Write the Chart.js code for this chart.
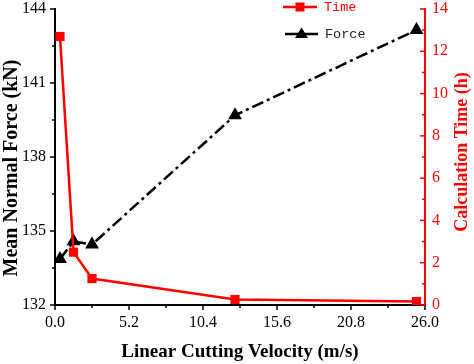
<!DOCTYPE html>
<html><head><meta charset="utf-8">
<script src="https://cdn.jsdelivr.net/npm/chart.js@4"></script>
<style>html,body{margin:0;padding:0;background:#fff}#wrap{width:474px;height:364px}</style>
</head><body><div id="wrap"><canvas id="c" width="474" height="364"></canvas></div>
<script>
const velocity = [0.35, 1.3, 2.6, 12.65, 25.4];
const timeHours = [12.7, 2.5, 1.25, 0.26, 0.16];
const forceKN = [133.86, 134.58, 134.45, 139.69, 143.15];
const xTicks = [0, 5.2, 10.4, 15.6, 20.8, 26.0];
const forceTicks = [132, 135, 138, 141, 144];
const timeTicks = [0, 2, 4, 6, 8, 10, 12, 14];

const RED = '#ff0000';
const SERIF = '"Liberation Serif", "Times New Roman", serif';

function mids(arr){ const r=[]; for(let i=0;i<arr.length-1;i++) r.push((arr[i]+arr[i+1])/2); return r; }
function seg(ctx,x1,y1,x2,y2){ ctx.beginPath(); ctx.moveTo(x1,y1); ctx.lineTo(x2,y2); ctx.stroke(); }

const deco = {
  id: 'deco',
  afterDraw(chart) {
    const ctx = chart.ctx;
    const xs = chart.scales.x, ys = chart.scales.y, yr = chart.scales.y1;
    const ca = chart.chartArea;
    ctx.save();
    ctx.strokeStyle = '#000'; ctx.lineWidth = 1.5;
    xTicks.forEach(v => { const p = xs.getPixelForValue(v); seg(ctx,p,ca.bottom,p,ca.bottom+5); });
    mids(xTicks).forEach(v => { const p = xs.getPixelForValue(v); seg(ctx,p,ca.bottom,p,ca.bottom+3); });
    forceTicks.forEach(v => { const p = ys.getPixelForValue(v); seg(ctx,ca.left,p,ca.left-5,p); });
    mids(forceTicks).forEach(v => { const p = ys.getPixelForValue(v); seg(ctx,ca.left,p,ca.left-3,p); });
    ctx.strokeStyle = RED;
    timeTicks.forEach(v => { const p = yr.getPixelForValue(v); seg(ctx,ca.right,p,ca.right-5,p); });
    mids(timeTicks).forEach(v => { const p = yr.getPixelForValue(v); seg(ctx,ca.right,p,ca.right-3,p); });

    ctx.save();
    ctx.translate(12, 168); ctx.rotate(-Math.PI/2);
    ctx.textAlign='center'; ctx.textBaseline='middle';
    ctx.fillStyle='#000'; ctx.font='bold 20px ' + SERIF;
    ctx.fillText('Mean Normal Force (kN)', 0, 0);
    ctx.restore();
    ctx.save();
    ctx.translate(462, 152); ctx.rotate(-Math.PI/2);
    ctx.textAlign='center'; ctx.textBaseline='middle';
    ctx.fillStyle=RED; ctx.font='bold 18px ' + SERIF;
    ctx.fillText('Calculation Time (h)', 0, 0);
    ctx.restore();

    ctx.lineWidth = 2.5;
    ctx.strokeStyle = RED; seg(ctx,283,7,317,7);
    ctx.fillStyle = RED; ctx.fillRect(295.5,2.5,9,9);
    ctx.font = '13.5px "Liberation Mono", "Courier New", monospace';
    ctx.textAlign='left'; ctx.textBaseline='middle';
    ctx.fillText('Time', 324, 7.5);
    ctx.strokeStyle = '#000'; seg(ctx,285,34,318,34);
    ctx.fillStyle = '#000';
    ctx.beginPath(); ctx.moveTo(301.5,27.5); ctx.lineTo(308,38); ctx.lineTo(295,38); ctx.closePath(); ctx.fill();
    ctx.fillStyle = '#222';
    ctx.fillText('Force', 325, 34);
    ctx.restore();
  }
};

const chart = new Chart(document.getElementById('c'), {
  type: 'line',
  data: {
    datasets: [
      {
        label: 'Time',
        data: velocity.map((v,i)=>({x:v, y:timeHours[i]})),
        yAxisID: 'y1',
        borderColor: RED, backgroundColor: RED,
        borderWidth: 2.5,
        pointStyle: 'rect', pointRadius: 6.5, pointHoverRadius: 6.5, pointBorderWidth: 0,
        tension: 0, order: 0
      },
      {
        label: 'Force',
        data: velocity.map((v,i)=>({x:v, y:forceKN[i]})),
        yAxisID: 'y',
        borderColor: '#000', backgroundColor: '#000',
        borderWidth: 2.5, borderDash: [12,4,3,4],
        pointStyle: 'triangle', pointRadius: 8, pointHoverRadius: 8, pointBorderWidth: 0,
        tension: 0, order: 1
      }
    ]
  },
  options: {
    responsive: false, animation: false, devicePixelRatio: 1,
    layout: { padding: { top: 9, left: 0, right: 0, bottom: 0 } },
    plugins: { legend: { display: false }, tooltip: { enabled: false } },
    scales: {
      x: {
        type: 'linear', min: 0, max: 26,
        afterBuildTicks: s => { s.ticks = xTicks.map(v=>({value:v})); },
        ticks: { callback: v => Number(v).toFixed(1), color: '#000', font: { family: SERIF, size: 16 }, padding: 8, maxRotation: 0, autoSkip: false },
        grid: { display: false, drawTicks: false, tickLength: 0 },
        border: { color: '#000', width: 2 },
        title: { display: true, text: 'Linear Cutting Velocity (m/s)', color: '#000', font: { family: SERIF, size: 19, weight: 'bold' }, padding: { top: 0, bottom: 1 } },
        afterFit: s => { s.height = 59; s.paddingLeft = 0; s.paddingRight = 0; }
      },
      y: {
        type: 'linear', position: 'left', min: 132, max: 144,
        afterBuildTicks: s => { s.ticks = forceTicks.map(v=>({value:v})); },
        ticks: { color: '#000', font: { family: SERIF, size: 16 }, padding: 9, autoSkip: false },
        grid: { display: false, drawTicks: false, tickLength: 0 },
        border: { color: '#000', width: 2 },
        afterFit: s => { s.width = 55; s.paddingTop = 0; s.paddingBottom = 0; }
      },
      y1: {
        type: 'linear', position: 'right', min: 0, max: 14,
        afterBuildTicks: s => { s.ticks = timeTicks.map(v=>({value:v})); },
        ticks: { color: RED, font: { family: SERIF, size: 16 }, padding: 7, autoSkip: false },
        grid: { display: false, drawTicks: false, tickLength: 0 },
        border: { color: RED, width: 2 },
        afterFit: s => { s.width = 49; s.paddingTop = 0; s.paddingBottom = 0; }
      }
    }
  },
  plugins: [deco]
});
</script>
</body></html>
